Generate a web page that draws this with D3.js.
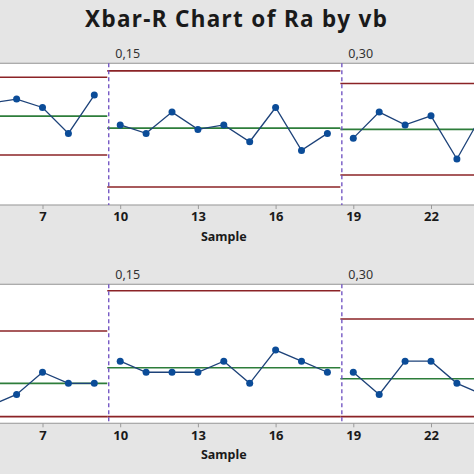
<!DOCTYPE html>
<html>
<head>
<meta charset="utf-8">
<script src="https://cdn.jsdelivr.net/npm/d3@7"></script>
<style>
  html, body { margin: 0; padding: 0; background: #e5e5e5; }
  svg { display: block; font-family: "Noto Sans", "Open Sans", sans-serif; }
</style>
</head>
<body>
<svg id="chart" width="474" height="474"></svg>
<script>
// samples visible in the crop (chart is cut off left and right)
const samples = [5, 6, 7, 8, 9, 10, 11, 12, 13, 14, 15, 16, 17, 18, 19, 20, 21, 22, 23, 24];
const xbar = [0.5901, 0.5932, 0.5867, 0.5666, 0.5963, 0.5732, 0.5666, 0.5831, 0.5697, 0.5732,
              0.5601, 0.5867, 0.5534, 0.5666, 0.5629, 0.5831, 0.5732, 0.5802, 0.5467, 0.5823];
const ranges = [0.01, 0.02, 0.04, 0.03, 0.03, 0.05, 0.04, 0.04, 0.04, 0.05,
                0.03, 0.06, 0.05, 0.04, 0.04, 0.02, 0.05, 0.05, 0.03, 0.02];

// stages (vb)
const stageLabels = ["", "0,15", "0,30"];
const stageFrom = [0.5, 9.5, 18.5];
const stageTo = [9.5, 18.5, 27.5];
const stageLast = [9, 18, 27];

// control limits per stage
const xbarUCL = [0.6102, 0.6151, 0.6053];
const xbarCL  = [0.5800, 0.5707, 0.5697];
const xbarLCL = [0.5498, 0.5250, 0.5343];
const rUCL = [0.0772, 0.1135, 0.0880];
const rCL  = [0.0300, 0.0441, 0.0342];
const rLCL = [0, 0, 0];

const tickSamples = [7, 10, 13, 16, 19, 22];

const svg = d3.select("#chart");

const x = d3.scaleLinear().domain([7, 22]).range([42.5, 431]);

const stageOf = s => stageLast.findIndex(l => s <= l);
const pts = samples.map((s, i) => ({ s: s, stage: stageOf(s), xbar: xbar[i], r: ranges[i] }));

svg.append("text")
    .attr("x", 236).attr("y", 26.5)
    .attr("text-anchor", "middle")
    .attr("font-size", 22.5).attr("font-weight", "bold")
    .attr("textLength", 302).attr("lengthAdjust", "spacing")
    .attr("fill", "#1a1a1a")
    .text("Xbar-R Chart of Ra by vb");

function panel(top, bottom, y, key, ucl, cl, lcl) {
    const g = svg.append("g");
    const left = x(stageFrom[0]), right = x(stageTo[stageTo.length - 1]);

    // plot area
    g.append("rect")
        .attr("x", left).attr("y", top)
        .attr("width", right - left).attr("height", bottom - top)
        .attr("fill", "#fff").attr("stroke", "#a3a3a3").attr("stroke-width", 1.2);

    // limit lines for each stage
    const limits = [[ucl, "#8b2326"], [cl, "#2d7d3a"], [lcl, "#8b2326"]];
    limits.forEach(function ([vals, col]) {
        g.selectAll(null)
            .data(vals)
            .join("line")
            .attr("x1", (d, i) => x(stageFrom[i]))
            .attr("x2", (d, i) => x(stageTo[i]))
            .attr("y1", d => y(d)).attr("y2", d => y(d))
            .attr("stroke", col).attr("stroke-width", 1.6);
    });

    // stage separators
    g.selectAll(null)
        .data(stageFrom.slice(1))
        .join("line")
        .attr("x1", d => x(d) + 1.5).attr("x2", d => x(d) + 1.5)
        .attr("y1", top).attr("y2", bottom)
        .attr("stroke", "#6b4cc0").attr("stroke-width", 1.3)
        .attr("stroke-dasharray", "4,3");

    // stage labels
    g.selectAll(null)
        .data(stageLabels.map((l, i) => ({ l: l, i: i })).filter(d => d.l))
        .join("text")
        .attr("x", d => x(stageFrom[d.i]) + 8)
        .attr("y", top - 5)
        .attr("font-size", 12.5).attr("fill", "#333")
        .text(d => d.l);

    // data, line broken between stages
    const line = d3.line().x(d => x(d.s)).y(d => y(d[key]));
    d3.groups(pts, d => d.stage).forEach(function ([st, arr]) {
        g.append("path")
            .attr("d", line(arr))
            .attr("fill", "none")
            .attr("stroke", "#1d4279").attr("stroke-width", 1.3);
    });
    g.selectAll(null)
        .data(pts)
        .join("circle")
        .attr("cx", d => x(d.s)).attr("cy", d => y(d[key]))
        .attr("r", 3.5)
        .attr("fill", "#0b4c98");

    // x axis
    const ax = g.append("g")
        .attr("transform", `translate(0,${bottom})`)
        .call(d3.axisBottom(x).tickValues(tickSamples).tickSize(4).tickPadding(3));
    ax.select(".domain").remove();
    ax.selectAll(".tick line").attr("stroke", "#9a9a9a");
    ax.selectAll(".tick text")
        .attr("font-size", 13).attr("font-weight", "bold")
        .attr("fill", "#1a1a1a")
        .attr("font-family", "\"Noto Sans\", sans-serif");

    g.append("text")
        .attr("x", x((stageFrom[0] + stageTo[stageTo.length - 1]) / 2))
        .attr("y", bottom + 36)
        .attr("text-anchor", "middle")
        .attr("font-size", 12.5).attr("font-weight", "bold")
        .attr("fill", "#1a1a1a")
        .text("Sample");
}

const yX = d3.scaleLinear().domain([0.511, 0.621]).range([205, 63.3]);
const yR = d3.scaleLinear().domain([-0.006, 0.1193]).range([423.3, 284.3]);

panel(63.3, 205, yX, "xbar", xbarUCL, xbarCL, xbarLCL);
panel(284.3, 423.3, yR, "r", rUCL, rCL, rLCL);
</script>
</body>
</html>
